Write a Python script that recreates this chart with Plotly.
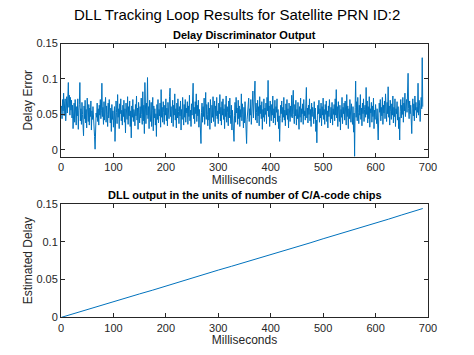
import plotly.graph_objects as go

# Delay discriminator output, one value per millisecond (1..690)
delay_error = [
0.062,0.044,0.071,0.055,0.080,0.048,0.066,0.072,0.041,0.058,
0.075,0.052,0.068,0.095,0.060,0.077,0.049,0.074,0.056,0.070,
0.045,0.063,0.030,0.058,0.066,0.039,0.071,0.052,0.035,0.061,
0.048,0.072,0.029,0.056,0.064,0.095,0.041,0.058,0.036,0.067,
0.050,0.033,0.020,0.062,0.044,0.070,0.038,0.057,0.031,0.073,
0.052,0.040,0.064,0.035,0.059,0.047,0.069,0.028,0.055,0.043,
0.061,0.037,0.030,0.019,0.001,0.034,0.052,0.046,0.066,0.040,
0.058,0.035,0.063,0.049,0.071,0.044,0.055,0.094,0.047,0.060,
0.036,0.068,0.042,0.057,0.074,0.039,0.062,0.050,0.033,0.066,
0.045,0.071,0.052,0.038,0.059,0.026,0.064,0.043,0.055,0.032,
0.048,0.061,0.012,0.044,0.069,0.053,0.037,0.078,0.046,0.058,
0.030,0.065,0.051,0.072,0.041,0.056,0.035,0.063,0.047,0.070,
0.039,0.058,0.024,0.066,0.050,0.043,0.075,0.036,0.061,0.048,
0.069,0.033,0.055,0.017,0.062,0.046,0.071,0.040,0.057,0.052,
0.034,0.064,0.048,0.076,0.042,0.059,0.029,0.067,0.053,0.038,
0.061,0.045,0.073,0.050,0.036,0.082,0.041,0.063,0.023,0.095,
0.058,0.037,0.066,0.049,0.102,0.044,0.061,0.030,0.070,0.052,
0.040,0.067,0.033,0.056,0.074,0.027,0.062,0.045,0.058,0.035,
0.051,0.019,0.064,0.043,0.071,0.038,0.057,0.048,0.066,0.032,
0.085,0.046,0.060,0.039,0.068,0.053,0.036,0.063,0.049,0.072,
0.041,0.059,0.034,0.067,0.052,0.044,0.075,0.087,0.047,0.061,
0.038,0.056,0.070,0.033,0.063,0.049,0.079,0.042,0.058,0.031,
0.066,0.045,0.072,0.054,0.037,0.061,0.048,0.069,0.028,0.057,
0.043,0.074,0.050,0.035,0.064,0.046,0.071,0.039,0.059,0.052,
0.068,0.036,0.062,0.047,0.077,0.041,0.056,0.033,0.065,0.049,
0.072,0.094,0.044,0.060,0.037,0.068,0.051,0.079,0.040,0.063,
0.048,0.070,0.032,0.057,0.045,0.026,0.009,0.053,0.066,0.039,
0.061,0.047,0.073,0.036,0.058,0.081,0.043,0.064,0.050,0.034,
0.067,0.042,0.059,0.029,0.071,0.054,0.038,0.063,0.046,0.075,
0.040,0.057,0.069,0.033,0.062,0.048,0.074,0.044,0.055,0.037,
0.066,0.051,0.078,0.041,0.060,0.035,0.068,0.049,0.072,0.043,
0.058,0.030,0.064,0.047,0.076,0.039,0.061,0.053,0.034,0.069,
0.045,0.073,0.050,0.037,0.063,0.028,0.056,0.041,0.025,0.012,
0.048,0.067,0.039,0.074,0.052,0.059,0.036,0.070,0.044,0.062,
0.033,0.057,0.046,0.079,0.041,0.065,0.050,0.031,0.060,0.038,
0.068,0.047,0.027,0.009,0.043,0.062,0.055,0.073,0.040,0.058,
0.049,0.071,0.036,0.064,0.052,0.083,0.045,0.060,0.074,0.097,
0.042,0.066,0.053,0.038,0.070,0.048,0.061,0.034,0.075,0.051,
0.063,0.044,0.068,0.029,0.057,0.046,0.072,0.040,0.059,0.050,
0.066,0.037,0.074,0.055,0.098,0.047,0.062,0.033,0.069,0.052,
0.041,0.064,0.049,0.076,0.038,0.058,0.045,0.070,0.035,0.061,
0.053,0.072,0.040,0.057,0.030,0.048,0.012,0.044,0.063,0.051,
0.069,0.039,0.060,0.046,0.074,0.042,0.056,0.034,0.065,0.049,
0.071,0.043,0.058,0.031,0.066,0.052,0.040,0.062,0.047,0.077,
0.045,0.060,0.084,0.050,0.037,0.064,0.048,0.070,0.035,0.057,
0.044,0.067,0.053,0.029,0.061,0.046,0.073,0.039,0.058,0.051,
0.065,0.036,0.071,0.048,0.055,0.042,0.069,0.088,0.045,0.059,
0.038,0.063,0.050,0.072,0.041,0.057,0.033,0.066,0.047,0.060,
0.054,0.037,0.068,0.044,0.059,0.026,0.042,0.010,0.048,0.063,
0.051,0.070,0.039,0.058,0.045,0.066,0.034,0.061,0.049,0.073,
0.043,0.057,0.036,0.064,0.050,0.069,0.040,0.055,0.031,0.062,
0.047,0.071,0.053,0.038,0.060,0.044,0.067,0.035,0.058,0.050,
0.064,0.041,0.072,0.049,0.085,0.045,0.061,0.033,0.068,0.052,
0.040,0.063,0.028,0.057,0.046,0.074,0.037,0.060,0.051,0.066,
0.042,0.069,0.054,0.035,0.078,0.047,0.062,0.030,0.058,0.044,
0.071,0.050,0.039,0.065,0.048,0.036,0.061,0.025,0.052,-0.009,
0.060,0.097,0.046,0.068,0.041,0.074,0.053,0.037,0.063,0.049,
0.078,0.043,0.059,0.034,0.066,0.051,0.072,0.040,0.057,0.063,
0.046,0.088,0.050,0.069,0.038,0.061,0.044,0.075,0.032,0.058,
0.052,0.067,0.039,0.062,0.047,0.073,0.030,0.056,0.043,0.064,
0.050,0.037,0.058,0.026,0.014,0.045,0.066,0.053,0.071,0.041,
0.060,0.048,0.074,0.036,0.063,0.052,0.069,0.044,0.079,0.057,
0.040,0.067,0.051,0.089,0.046,0.062,0.035,0.070,0.054,0.043,
0.065,0.049,0.076,0.038,0.060,0.047,0.072,0.033,0.058,0.051,
0.068,0.042,0.061,0.030,0.046,0.014,0.054,0.071,0.045,0.063,
0.050,0.074,0.039,0.066,0.055,0.080,0.047,0.062,0.071,0.053,
0.084,0.108,0.058,0.044,0.069,0.051,0.063,0.037,0.023,0.059,
0.072,0.048,0.065,0.041,0.076,0.056,0.067,0.045,0.060,0.053,
0.094,0.049,0.070,0.062,0.040,0.066,0.074,0.058,0.130,0.061,
]
ms = list(range(1, len(delay_error) + 1))

# DLL output (estimated delay, chips), read at intervals
est_ms = [1, 25, 50, 75, 100, 125, 150, 175, 200, 225, 250, 275, 300, 325, 350,
          375, 400, 425, 450, 475, 500, 525, 550, 575, 600, 625, 650, 675, 690]
est_delay = [0.0, 0.005, 0.0105, 0.016, 0.0215, 0.0265, 0.031, 0.036, 0.0415,
             0.0465, 0.052, 0.057, 0.0625, 0.0675, 0.0725, 0.078, 0.0833, 0.088,
             0.093, 0.0985, 0.104, 0.109, 0.114, 0.119, 0.1245, 0.130, 0.1355,
             0.1408, 0.1440]

x_ticks = [0, 100, 200, 300, 400, 500, 600, 700]
top_y_ticks = [0, 0.05, 0.1, 0.15]
top_y_labels = ["0", "0.05", "0.1", "0.15"]
bot_y_ticks = [0, 0.05, 0.1, 0.15]
bot_y_labels = ["0", "0.05", "0.1", "0.15"]

W, H = 474, 355
FONT = "Liberation Sans, Arial, Helvetica, sans-serif"
AX = "#262626"
LINE = "#0072BD"

def px_x(p):
    return p / W

def px_y(p):
    return 1 - p / H

fig = go.Figure()
fig.add_trace(go.Scatter(x=ms, y=delay_error, mode="lines",
                         line=dict(color=LINE, width=1), xaxis="x", yaxis="y",
                         showlegend=False, hoverinfo="skip"))
fig.add_trace(go.Scatter(x=est_ms, y=est_delay, mode="lines",
                         line=dict(color=LINE, width=1), xaxis="x2", yaxis="y2",
                         showlegend=False, hoverinfo="skip"))

common_axis = dict(showgrid=False, zeroline=False, showline=True, linecolor=AX,
                   linewidth=1, mirror="allticks", ticks="inside", ticklen=4,
                   tickcolor=AX, automargin=False,
                   tickfont=dict(family=FONT, size=11, color=AX),
                   title_font=dict(family=FONT, size=12, color=AX))

xdom = [px_x(61), px_x(428)]
fig.update_layout(
    width=W, height=H, margin=dict(l=0, r=0, t=0, b=0, autoexpand=False),
    paper_bgcolor="white", plot_bgcolor="white",
    xaxis=dict(domain=xdom, range=[0, 700], tickvals=x_ticks, anchor="y",
               title=dict(text="Milliseconds", standoff=2), **common_axis),
    yaxis=dict(domain=[px_y(157), px_y(43.5)], range=[-0.01, 0.15],
               tickvals=top_y_ticks, ticktext=top_y_labels, anchor="x",
               title=dict(text="Delay Error", standoff=1), **common_axis),
    xaxis2=dict(domain=xdom, range=[0, 700], tickvals=x_ticks, anchor="y2",
                title=dict(text="Milliseconds", standoff=2), **common_axis),
    yaxis2=dict(domain=[px_y(317.3), px_y(204)], range=[0, 0.15],
                tickvals=bot_y_ticks, ticktext=bot_y_labels, anchor="x2",
                title=dict(text="Estimated Delay", standoff=1), **common_axis),
    annotations=[
        dict(text="DLL Tracking Loop Results for Satellite PRN ID:2",
             x=px_x(237), y=px_y(15), xref="paper", yref="paper", showarrow=False,
             xanchor="center", yanchor="middle",
             font=dict(family=FONT, size=15, color="black")),
        dict(text="<b>Delay Discriminator Output</b>",
             x=(xdom[0] + xdom[1]) / 2, y=px_y(35), xref="paper", yref="paper",
             showarrow=False, xanchor="center", yanchor="middle",
             font=dict(family=FONT, size=11, color="black")),
        dict(text="<b>DLL output in the units of number of C/A-code chips</b>",
             x=(xdom[0] + xdom[1]) / 2, y=px_y(195), xref="paper", yref="paper",
             showarrow=False, xanchor="center", yanchor="middle",
             font=dict(family=FONT, size=11, color="black")),
    ],
)

fig.write_html("out.html", config={"displayModeBar": False},
               post_script="document.body.style.margin='0';")
